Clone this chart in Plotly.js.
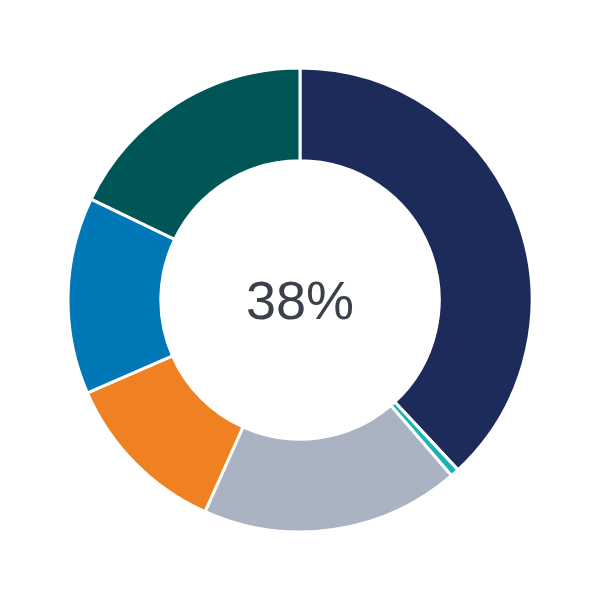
<!DOCTYPE html>
<html>
<head>
<meta charset="utf-8">
<script src="https://cdn.plot.ly/plotly-3.0.1.min.js"></script>
<style>
  html, body { margin: 0; padding: 0; background: #fff; }
  #donut { width: 600px; height: 600px; }
</style>
</head>
<body>
<div id="donut"></div>
<script>
// slice order runs clockwise from 12 o'clock
var labels = ['Segment A', 'Segment B', 'Segment C', 'Segment D', 'Segment E', 'Segment F'];
var values = [38, 0.6, 18, 11.7, 13.7, 17.8];
var colors = ['#1c2b5a', '#1ab3b3', '#a9b3c1', '#f08122', '#0077b6', '#005657'];
var centerText = '38%';

var data = [{
  type: 'pie',
  labels: labels,
  values: values,
  hole: 0.6,
  sort: false,
  direction: 'clockwise',
  rotation: 0,
  marker: {
    colors: colors,
    line: {color: '#ffffff', width: 3}
  },
  textinfo: 'none',
  hoverinfo: 'label+percent'
}];

var layout = {
  width: 600,
  height: 600,
  margin: {t: 68, b: 68, l: 68, r: 68},
  showlegend: false,
  paper_bgcolor: '#ffffff',
  annotations: [{
    text: centerText,
    x: 0.5,
    y: 0.5,
    xref: 'paper',
    yref: 'paper',
    showarrow: false,
    font: {family: 'Liberation Sans, Arial, sans-serif', size: 54, color: '#3b404b'}
  }]
};

Plotly.newPlot('donut', data, layout, {displayModeBar: false});
</script>
</body>
</html>
